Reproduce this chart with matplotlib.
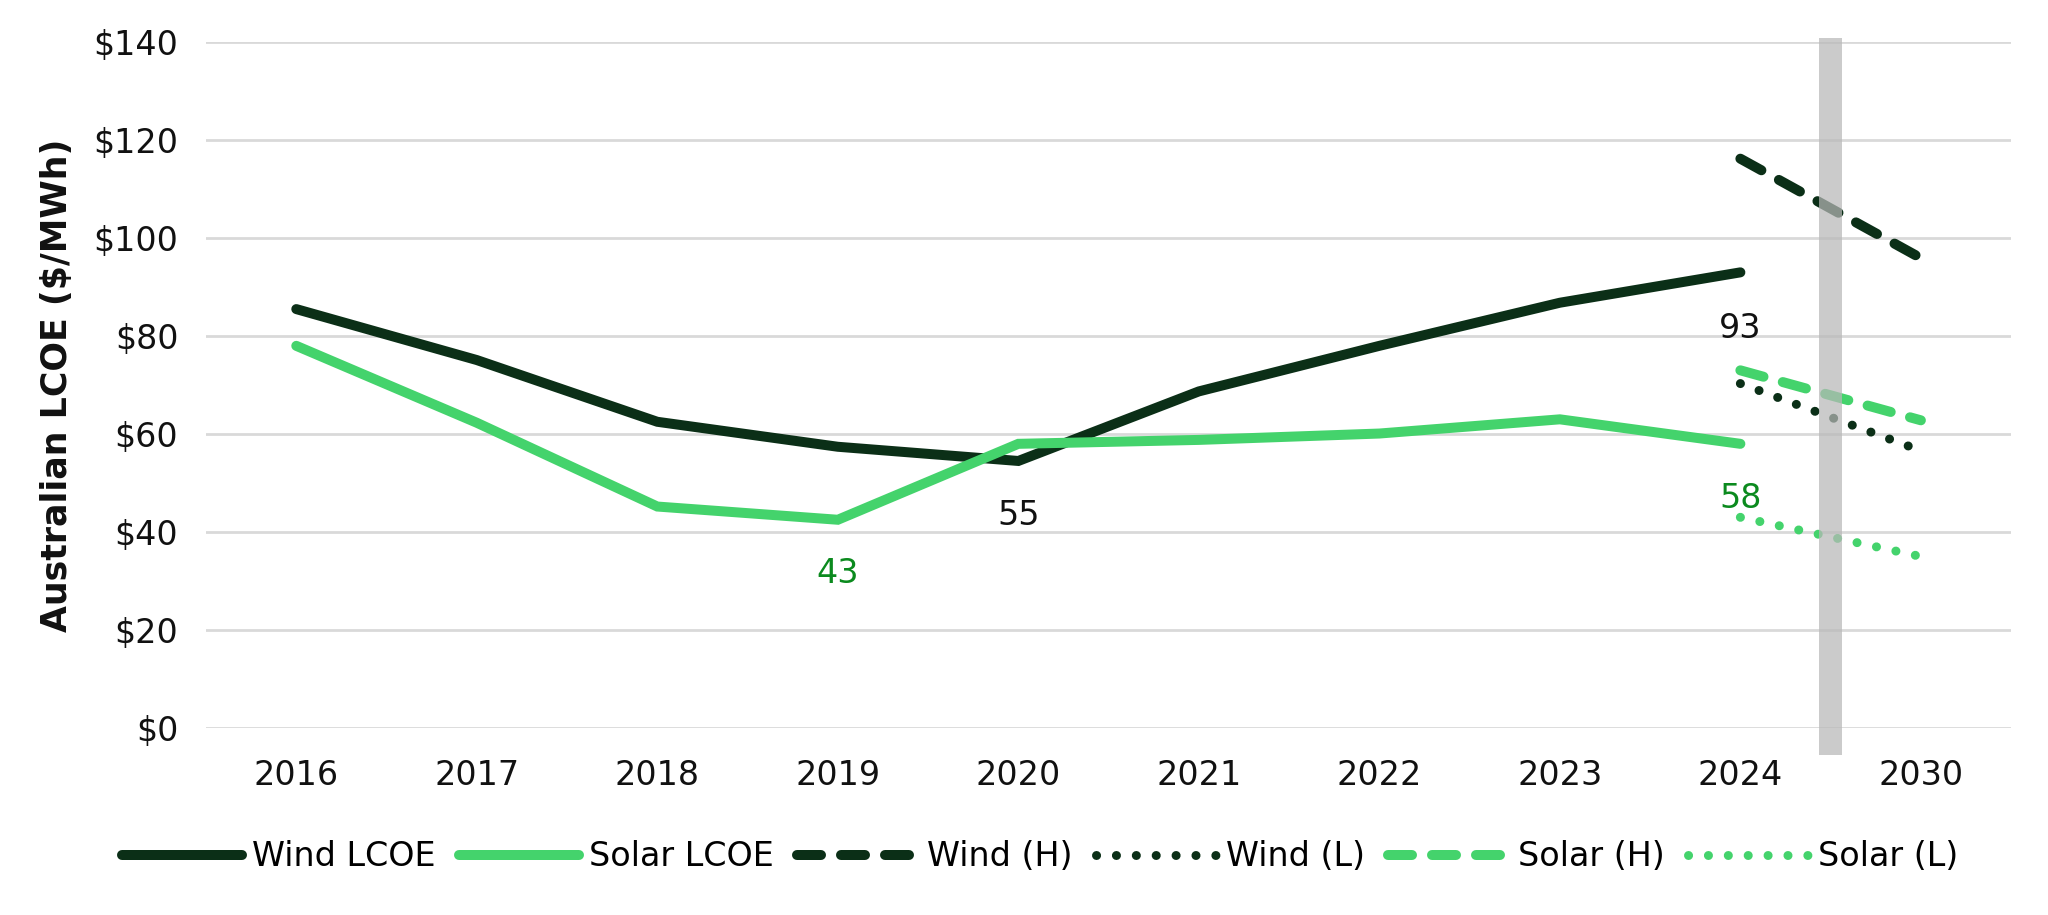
import numpy as np
import matplotlib
matplotlib.use("Agg")
import matplotlib.pyplot as plt

# categories on the x axis (2030 is a projection column)
years = ["2016", "2017", "2018", "2019", "2020", "2021", "2022", "2023", "2024", "2030"]

# historical LCOE ($/MWh), 2016-2024
wind_lcoe = [85.5, 75.1, 62.5, 57.4, 54.5, 68.7, 78.0, 86.8, 93.0]
solar_lcoe = [78.0, 62.3, 45.2, 42.5, 58.0, 58.8, 60.1, 63.0, 58.0]

# projections 2024 -> 2030
wind_high = [116.2, 95.9]
wind_low = [70.3, 56.6]
solar_high = [73.0, 62.8]
solar_low = [43.0, 35.0]

# callout labels: (category index, y position, text, colour)
callouts = [
    (3, 31.5, "43", "#0b8a1e"),
    (4, 43.3, "55", "#111111"),
    (8, 81.6, "93", "#111111"),
    (8, 46.8, "58", "#0b8a1e"),
]

WIND = "#0b2f17"
SOLAR = "#44d36c"

plt.rcParams["font.family"] = ["DejaVu Sans"]

fig = plt.figure(figsize=(20.48, 9.15), dpi=100)
ax = fig.add_axes([0.1006, 0.2044, 0.8814, 0.7496])

x_hist = np.arange(len(wind_lcoe))
x_proj = [8, 9]
lw = 7.2

ax.plot(x_hist, wind_lcoe, color=WIND, lw=lw, solid_capstyle="round",
        solid_joinstyle="miter", label="Wind LCOE", zorder=3)
ax.plot(x_hist, solar_lcoe, color=SOLAR, lw=lw, solid_capstyle="round",
        solid_joinstyle="miter", label="Solar LCOE", zorder=3)
ax.plot(x_proj, wind_high, color=WIND, lw=lw, ls=(0, (2.4, 2.0)),
        dash_capstyle="round", label="Wind (H)", zorder=3)
ax.plot(x_proj, wind_low, color=WIND, lw=lw * 0.9, ls=(0, (0.01, 2.2)),
        dash_capstyle="round", label="Wind (L)", zorder=3)
ax.plot(x_proj, solar_high, color=SOLAR, lw=lw, ls=(0, (2.4, 2.0)),
        dash_capstyle="round", label="Solar (H)", zorder=3)
ax.plot(x_proj, solar_low, color=SOLAR, lw=lw * 0.9, ls=(0, (0.01, 2.2)),
        dash_capstyle="round", label="Solar (L)", zorder=3)

# grey divider between actuals and 2030 projection
ax.add_patch(plt.Rectangle((8.5 - 0.065, -5.5), 0.13, 146.3, color="#b8b8b8",
                           alpha=0.72, lw=0, clip_on=False, zorder=4))

for xi, yi, txt, col in callouts:
    ax.text(xi, yi, txt, color=col, fontsize=24, ha="center", va="center", zorder=5)

ax.set_xlim(-0.5, 9.5)
ax.set_ylim(0, 140)
ax.set_xticks(np.arange(len(years)))
ax.set_xticklabels(years)
ax.set_yticks(np.arange(0, 141, 20))
ax.set_yticklabels([f"${v}" for v in range(0, 141, 20)])
ax.tick_params(axis="both", length=0, labelsize=24, colors="#111111")
ax.tick_params(axis="x", pad=22)
ax.tick_params(axis="y", pad=20)
ax.grid(axis="y", color="#d9d9d9", lw=2)
ax.set_axisbelow(True)
for s in ax.spines.values():
    s.set_visible(False)

ax.set_ylabel("Australian LCOE ($/MWh)", fontsize=25, fontweight="bold",
              color="#111111", labelpad=14)

leg = ax.legend(loc="upper center", bbox_to_anchor=(0.462, -0.12), ncol=6,
                frameon=False, fontsize=24, handlelength=3.6, handletextpad=0.3,
                columnspacing=0.7)

fig.savefig("out.png", dpi=100, facecolor="white")
